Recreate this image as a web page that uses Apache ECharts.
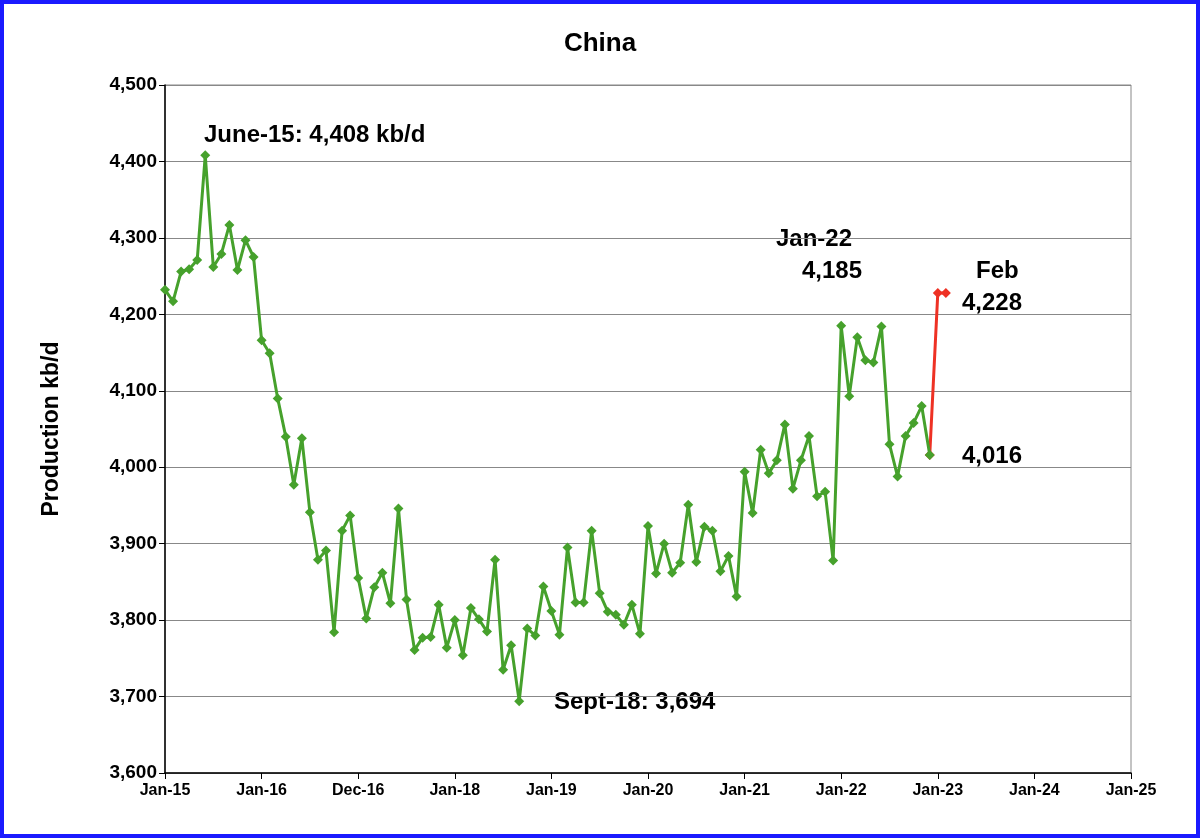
<!DOCTYPE html>
<html>
<head>
<meta charset="utf-8">
<script src="https://cdn.jsdelivr.net/npm/echarts@6/dist/echarts.min.js"></script>
<style>
html, body { margin: 0; padding: 0; background: #fff; }
#chart { width: 1200px; height: 838px; box-sizing: border-box; border: 4px solid #1a1aff; }
</style>
</head>
<body>
<div id="chart"></div>
<script>
// monthly production kb/d, Jan-15 .. Dec-22
const production = [
    4232, 4217, 4256, 4259, 4271, 4408, 4262, 4279, 4317, 4258, 4297, 4275,
    4166, 4149, 4090, 4040, 3977, 4038, 3941, 3879, 3891, 3784, 3917, 3937,
    3855, 3802, 3843, 3862, 3822, 3946, 3827, 3761, 3777, 3778, 3820, 3764,
    3800, 3754, 3816, 3801, 3785, 3879, 3735, 3767, 3694, 3789, 3780, 3844,
    3812, 3781, 3895, 3823, 3823, 3917, 3835, 3811, 3807, 3794, 3820, 3782,
    3923, 3861, 3900, 3862, 3875, 3951, 3876, 3922, 3917, 3864, 3884, 3831,
    3994, 3940, 4023, 3992, 4009, 4056, 3972, 4009, 4041, 3962, 3968, 3878,
    4185, 4093, 4170, 4140, 4137, 4184, 4030, 3988, 4041, 4058, 4080, 4016
];
// Dec-22 link, Jan-23, Feb-23
const recent = [4016, 4228, 4228];
const tickLabels = ['Jan-15', 'Jan-16', 'Dec-16', 'Jan-18', 'Jan-19', 'Jan-20',
    'Jan-21', 'Jan-22', 'Jan-23', 'Jan-24', 'Jan-25'];

const chart = echarts.init(document.getElementById('chart'));
const green = '#46a12c';
const red = '#ee3124';
const annot = (x, y, text) => ({
    type: 'text', left: x, top: y,
    style: { text: text, font: 'bold 24px Arial, Liberation Sans', fill: '#000', textAlign: 'left' }
});

chart.setOption({
    animation: false,
    title: {
        text: 'China', left: 'center', top: 22,
        textStyle: { fontFamily: 'Arial, Liberation Sans', fontWeight: 'bold', fontSize: 26, color: '#000' }
    },
    grid: { left: 161, right: 65, top: 81, bottom: 61, show: true, borderColor: '#888', borderWidth: 1 },
    xAxis: {
        type: 'value', min: 0, max: 120, interval: 12,
        axisLine: { lineStyle: { color: '#000', width: 1.5 } },
        axisTick: { show: true, inside: false, length: 6, lineStyle: { color: '#000' } },
        splitLine: { show: false },
        axisLabel: {
            color: '#000', fontWeight: 'bold', fontSize: 16, fontFamily: 'Arial, Liberation Sans',
            margin: 10,
            formatter: v => tickLabels[Math.round(v / 12)]
        }
    },
    yAxis: {
        type: 'value', min: 3600, max: 4500, interval: 100,
        name: 'Production kb/d', nameLocation: 'middle', nameGap: 102,
        nameTextStyle: { color: '#000', fontWeight: 'bold', fontSize: 23, fontFamily: 'Arial, Liberation Sans' },
        axisLine: { show: true, lineStyle: { color: '#000', width: 1.5 } },
        axisTick: { show: true, length: 6, lineStyle: { color: '#000' } },
        splitLine: { lineStyle: { color: '#888', width: 1.2 } },
        axisLabel: {
            color: '#000', fontWeight: 'bold', fontSize: 19, fontFamily: 'Arial, Liberation Sans',
            formatter: v => v.toLocaleString('en-US')
        }
    },
    series: [
        {
            type: 'line',
            data: production.map((v, i) => [i, v]),
            symbol: 'diamond', symbolSize: 10,
            lineStyle: { color: green, width: 3 },
            itemStyle: { color: green },
            z: 3
        },
        {
            type: 'line',
            data: recent.map((v, i) => [95 + i, v]),
            symbol: 'diamond', symbolSize: 10,
            lineStyle: { color: red, width: 3 },
            itemStyle: { color: red },
            z: 2
        }
    ],
    graphic: [
        annot(200, 119, 'June-15: 4,408 kb/d'),
        annot(772, 223, 'Jan-22'),
        annot(798, 255, '4,185'),
        annot(972, 255, 'Feb'),
        annot(958, 287, '4,228'),
        annot(958, 440, '4,016'),
        annot(550, 686, 'Sept-18: 3,694')
    ]
});
</script>
</body>
</html>
